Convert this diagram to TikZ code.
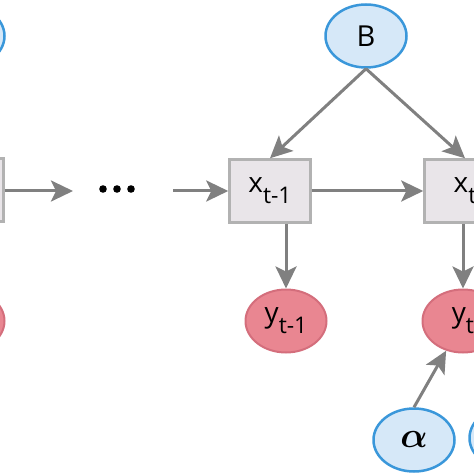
\documentclass[tikz,border=0pt]{standalone}
\usepackage{fontspec}
\usepackage{amsmath}
\usepackage{bm}
\setmainfont{Open Sans}
\usetikzlibrary{positioning, arrows.meta, shapes}
\definecolor{parblue}{RGB}{58,151,218}
\definecolor{parbluefill}{RGB}{214,232,248}
\definecolor{obspink}{RGB}{212,110,124}
\definecolor{obspinkfill}{RGB}{233,134,145}
\definecolor{hidgray}{RGB}{178,178,178}
\definecolor{hidfill}{RGB}{233,229,233}
\definecolor{arrgray}{RGB}{128,128,128}
\newcommand{\idx}[1]{\raisebox{-0.4em}{\fontsize{23}{23}\selectfont #1}}

\begin{document}
\begin{tikzpicture}[x=1bp, y=-1bp,
    param/.style={ellipse, draw=parblue, fill=parbluefill, line width=2.5bp,
        minimum width=81bp, minimum height=63bp, inner sep=0pt,
        font=\fontsize{29}{29}\selectfont},
    obs/.style={ellipse, draw=obspink, fill=obspinkfill, line width=2bp,
        minimum width=81bp, minimum height=63bp, inner sep=0pt,
        font=\fontsize{28}{28}\selectfont},
    hid/.style={rectangle, draw=hidgray, fill=hidfill, line width=2.5bp,
        minimum width=81bp, minimum height=63bp, inner sep=0pt,
        font=\fontsize{28}{28}\selectfont},
    arr/.style={-{Stealth[length=22bp, width=21bp, inset=5bp]}, draw=arrgray, line width=3bp}]
    \useasboundingbox (0,0) rectangle (474,474);
    \clip (0,0) rectangle (474,474);

    % left column (cut off)
    \node[param] (parL) at (-36,36) {};
    \node[hid] (hidL) at (-37,190) {};
    \node[obs] (obsL) at (-36,321) {};

    % dots
    \foreach \dx in {-14,0,14}
        \fill (117+\dx,189) circle (3.8bp);
    \coordinate (dotsin) at (73,191);
    \coordinate (dotsout) at (173,191);

    % B
    \node[param] (B) at (366,36) {B};

    % hidden states
    \node[hid] (xa) at (270,191) {x\idx{t-1}};
    \node[hid] (xb) at (465,191) {x\idx{t}};

    % observations
    \node[obs] (ya) at (286,321) {y\idx{t-1}};
    \node[obs] (yb) at (463,321) {y\idx{t}};

    % alpha and the one beside it
    \node[param] (alpha) at (414,440) {\scalebox{1.45}{$\bm{\alpha}$}};
    \node[param] (parR) at (510,438) {};

    % arrows
    \draw[arr] (hidL.east |- dotsin) -- (dotsin);
    \draw[arr] (dotsout) -- (xa.west |- dotsout);
    \draw[arr] (B.south) -- (xa.north);
    \draw[arr] (B.south) -- (xb.north);
    \draw[arr] (xa.east) -- (xb.west);
    \draw[arr] (ya.north |- xa.south) -- (ya.north);
    \draw[arr] (yb.north |- xb.south) -- (yb.north);
    \draw[arr] (alpha.north) -- (yb);
\end{tikzpicture}
\end{document}
